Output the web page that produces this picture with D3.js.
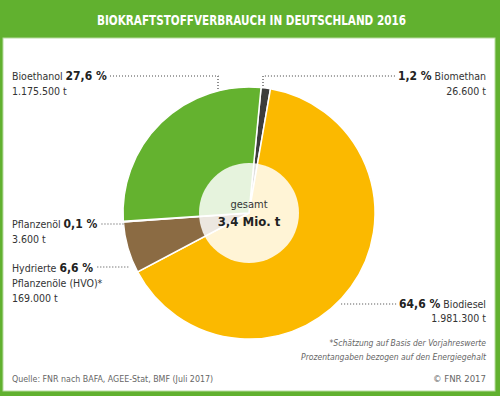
<!DOCTYPE html>
<html>
<head>
<meta charset="utf-8">
<script src="https://cdn.jsdelivr.net/npm/d3@7"></script>
<style>
  body { margin: 0; background: #fff; }
  svg text { font-family: "Liberation Sans Narrow", "DejaVu Sans Condensed", sans-serif; }
</style>
</head>
<body>
<div id="chart"></div>
<script>
// Daten (Anteile in %, bezogen auf Energiegehalt)
const categories = ["Biomethan", "Biodiesel", "Hydrierte Pflanzenöle (HVO)*", "Pflanzenöl", "Bioethanol"];
const shares = [1.2, 64.6, 6.6, 0.1, 27.6];
const shareLabels = ["1,2 %", "64,6 %", "6,6 %", "0,1 %", "27,6 %"];
const tonnes = ["26.600 t", "1.981.300 t", "169.000 t", "3.600 t", "1.175.500 t"];
const colors = ["#3d3d3b", "#fbb900", "#8b6b43", "#e9a8a0", "#64b22f"];

const W = 500, H = 396;
const green = "#61b12f";
const cx = 249, cy = 213, R = 126, rInner = 50;

const svg = d3.select("#chart").append("svg")
    .attr("width", W).attr("height", H);

// Rahmen
svg.append("rect").attr("width", W).attr("height", H).attr("fill", green);
svg.append("rect").attr("x", 3).attr("y", 38).attr("width", 492).attr("height", 353)
    .attr("fill", "#fff").attr("stroke", "#b8dca0").attr("stroke-width", 1);

svg.append("text")
    .attr("x", 97).attr("y", 25)
    .attr("textLength", 309).attr("lengthAdjust", "spacingAndGlyphs")
    .attr("fill", "#fff").attr("font-weight", "bold").attr("font-size", 14)
    .text("BIOKRAFTSTOFFVERBRAUCH IN DEUTSCHLAND 2016");

// Kreisdiagramm
const pie = d3.pie().sort(null)
    .startAngle(5.5 * Math.PI / 180)
    .endAngle(5.5 * Math.PI / 180 + 2 * Math.PI);
const arc = d3.arc().innerRadius(0).outerRadius(R);
const g = svg.append("g").attr("transform", `translate(${cx},${cy})`);

g.selectAll("path.slice")
    .data(pie(shares))
    .enter().append("path")
    .attr("class", "slice")
    .attr("d", arc)
    .attr("fill", (d, i) => colors[i])
    .attr("stroke", "#fff")
    .attr("stroke-width", 1.5);

g.append("circle").attr("r", rInner).attr("fill", "#fff").attr("fill-opacity", 0.84);

g.append("text").attr("y", -5).attr("text-anchor", "middle")
    .attr("font-size", 11).attr("fill", "#333").text("gesamt");
g.append("text").attr("y", 13).attr("text-anchor", "middle")
    .attr("font-size", 13).attr("font-weight", "bold").attr("fill", "#222").text("3,4 Mio. t");

// Hilfsfunktionen für Führungslinien zum Kreisrand
function edgeY(x, sign) { const dx = x - cx; return cy + sign * Math.sqrt(R * R - dx * dx); }
function edgeX(y, sign) { const dy = y - cy; return cx + sign * Math.sqrt(R * R - dy * dy); }

const lines = svg.append("g")
    .attr("fill", "none").attr("stroke", "#444")
    .attr("stroke-width", 1.2).attr("stroke-dasharray", "1,2");

const lbl = svg.append("g").attr("fill", "#333");
function label(x, y, parts, anchor) {
  const t = lbl.append("text").attr("x", x).attr("y", y).attr("text-anchor", anchor || "start");
  parts.forEach(p => {
    t.append("tspan").attr("font-size", p.b ? 12 : 10.5)
      .attr("font-weight", p.b ? "bold" : "normal")
      .attr("fill", p.b ? "#222" : "#333")
      .text(p.t);
  });
  return t.node().getBBox();
}

// Bioethanol (Index 4)
let b = label(12, 80, [{t: "Bioethanol "}, {t: shareLabels[4], b: true}]);
lines.append("path").attr("d", `M${b.x + b.width + 3},76H218V${edgeY(218, -1)}`);
label(12, 95, [{t: tonnes[4]}]);

// Biomethan (Index 0)
b = label(486, 80, [{t: shareLabels[0], b: true}, {t: " " + categories[0]}], "end");
lines.append("path").attr("d", `M${b.x - 3},76H263V${edgeY(263, -1)}`);
label(486, 95, [{t: tonnes[0]}], "end");

// Pflanzenöl (Index 3)
b = label(12, 228, [{t: "Pflanzenöl "}, {t: shareLabels[3], b: true}]);
lines.append("path").attr("d", `M${b.x + b.width + 4},224H${edgeX(224, -1)}`);
label(12, 243, [{t: tonnes[3]}]);

// HVO (Index 2)
b = label(12, 272, [{t: "Hydrierte "}, {t: shareLabels[2], b: true}]);
lines.append("path").attr("d", `M${b.x + b.width + 4},267H${edgeX(267, -1) - 5}`);
label(12, 287, [{t: "Pflanzenöle (HVO)*"}]);
label(12, 302, [{t: tonnes[2]}]);

// Biodiesel (Index 1)
b = label(486, 308, [{t: shareLabels[1], b: true}, {t: " " + categories[1]}], "end");
lines.append("path").attr("d", `M${edgeX(304, 1) + 5},304H${b.x - 3}`);
label(486, 322, [{t: tonnes[1]}], "end");

// Fußnoten
const foot = svg.append("g").attr("fill", "#666").attr("font-size", 8.5);
foot.append("text").attr("x", 486).attr("y", 346).attr("text-anchor", "end")
    .attr("font-style", "italic").text("*Schätzung auf Basis der Vorjahreswerte");
foot.append("text").attr("x", 486).attr("y", 360).attr("text-anchor", "end")
    .attr("font-style", "italic").text("Prozentangaben bezogen auf den Energiegehalt");
foot.append("text").attr("x", 486).attr("y", 382).attr("text-anchor", "end")
    .attr("font-size", 9.5).text("© FNR 2017");
foot.append("text").attr("x", 12).attr("y", 382)
    .attr("font-size", 8.8)
    .text("Quelle: FNR nach BAFA, AGEE-Stat, BMF  (Juli 2017)");
</script>
</body>
</html>
